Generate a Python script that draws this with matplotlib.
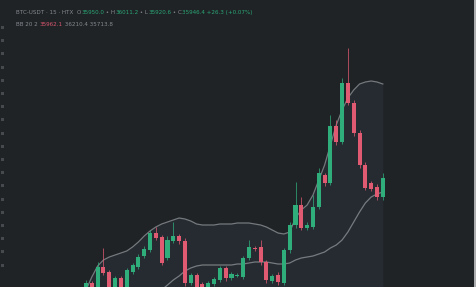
import matplotlib
matplotlib.use("Agg")
import matplotlib.pyplot as plt
from matplotlib.patches import Rectangle

# candles, price units (higher = up)
opens = [8, 17, 10, 33, 28, 10, 22, 10, 28, 33, 44, 50, 67, 63, 42, 59, 64, 59, 17, 25,
         16, 12, 16, 20, 32, 22, 24, 23, 42, 52, 53, 38, 19, 25, 17, 50, 75, 95, 72, 73,
         93, 125, 117, 174, 158, 217, 197, 167, 135, 117, 113, 103]
closes = [17, 8, 33, 27, 10, 22, 9, 30, 35, 43, 51, 67, 62, 37, 60, 64, 59, 17, 25, 12,
          10, 17, 21, 32, 22, 26, 25, 42, 53, 51, 38, 20, 24, 18, 50, 75, 95, 72, 75, 93,
          127, 117, 174, 158, 217, 197, 167, 135, 112, 111, 103, 122]
highs = [20, 19, 38, 52, 30, 24, 24, 32, 37, 46, 54, 70, 73, 65, 64, 78, 66, 62, 27, 27,
         18, 19, 23, 34, 34, 28, 27, 44, 60, 54, 60, 40, 26, 28, 52, 78, 118, 103, 78, 105,
         132, 127, 185, 180, 222, 252, 200, 170, 138, 119, 116, 127]
lows = [5, 5, 8, 25, 6, 8, 6, 8, 26, 31, 42, 48, 60, 35, 40, 57, 56, 14, 15, 9,
        7, 10, 14, 18, 19, 20, 23, 21, 40, 49, 35, 17, 17, 15, 15, 47, 72, 70, 70, 71,
        91, 114, 115, 155, 156, 195, 164, 132, 110, 109, 100, 100]

# bollinger band lines
bb_upper = [10, 23, 34, 40, 43, 45, 47, 49, 53, 58, 64, 69, 73, 76, 78, 80, 82, 81, 79, 76,
            75, 75, 75, 76, 76, 76, 77, 77, 77, 76, 75, 73, 70, 67, 66, 68, 82, 90, 95, 105,
            120, 135, 155, 175, 190, 202, 210, 216, 218, 219, 218, 216]
bb_mid = [None] * 13 + [10, 15, 20, 24, 29, 32, 34, 35, 35, 35, 35, 35, 35, 36, 36, 37,
                        38, 38, 38, 37, 36, 36, 37, 40, 42, 43, 44, 46, 48, 52, 55, 60,
                        68, 78, 88, 97, 103, 106, 108]

header_1 = [("BTC-USDT · 15 · HTX  O", "#858a8f"), ("35950.0", "#2aa574"),
            (" • H", "#858a8f"), ("36011.2", "#2aa574"), (" • L", "#858a8f"),
            ("35920.6", "#2aa574"), (" • C", "#858a8f"), ("35946.4 +26.3 (+0.07%)", "#2aa574")]
header_2 = [("BB 20 2 ", "#858a8f"), ("35962.1", "#d9566e"), (" 36210.4 35713.8", "#858a8f")]

bg = "#1f2326"
up_col = "#2fae7c"
down_col = "#e05a72"
band_col = "#8a8f94"

fig = plt.figure(figsize=(4.77, 2.87), dpi=100, facecolor=bg)
ax = fig.add_axes([0, 0, 1, 1])
ax.set_facecolor(bg)

x = list(range(len(opens)))
step = 5.82  # pixels per candle
ax.set_xlim(-86 / step, (477 - 86) / step)
ax.set_ylim(13, 300)

# band fill
ax.fill_between(x, bb_upper, 0, color="#262b31", zorder=1, linewidth=0)
ax.plot(x, bb_upper, color=band_col, lw=0.9, alpha=0.8, zorder=2)
mx = [i for i, v in enumerate(bb_mid) if v is not None]
my = [v for v in bb_mid if v is not None]
ax.plot(mx, my, color=band_col, lw=0.9, alpha=0.8, zorder=2)

w = 0.7
for i in x:
    o, c, h, l = opens[i], closes[i], highs[i], lows[i]
    col = up_col if c >= o else down_col
    ax.vlines(i, l, h, color=col, lw=0.6, alpha=0.85, zorder=3)
    lo = min(o, c)
    ht = max(abs(c - o), 0.8)
    ax.add_patch(Rectangle((i - w / 2, lo), w, ht, facecolor=col, edgecolor="none", zorder=4))

ax.axis("off")

# header legend
def write_line(parts, xpix, ypix):
    t = None
    for s, col in parts:
        if t is None:
            t = fig.text(xpix / 477, 1 - ypix / 287, s, color=col, fontsize=4.05,
                         va="center", ha="left")
        else:
            t = ax.annotate(s, xycoords=t, xy=(1, 0.5), va="center", ha="left",
                            color=col, fontsize=4.05)

write_line(header_1, 16, 12.5)
write_line(header_2, 16, 24)

# left toolbar glyphs
for k in range(19):
    fig.patches.append(Rectangle((0.5 / 477, 1 - (29 + 13.2 * k) / 287), 3 / 477, 3 / 287,
                                 transform=fig.transFigure, facecolor="#6d7276",
                                 edgecolor="none", alpha=0.5))

# right frame edge
fig.add_artist(plt.Line2D([475.5 / 477, 475.5 / 477], [0, 1], color="#c9cacb", lw=1.2,
                          transform=fig.transFigure))

fig.savefig("out.png", dpi=100, facecolor=bg)
